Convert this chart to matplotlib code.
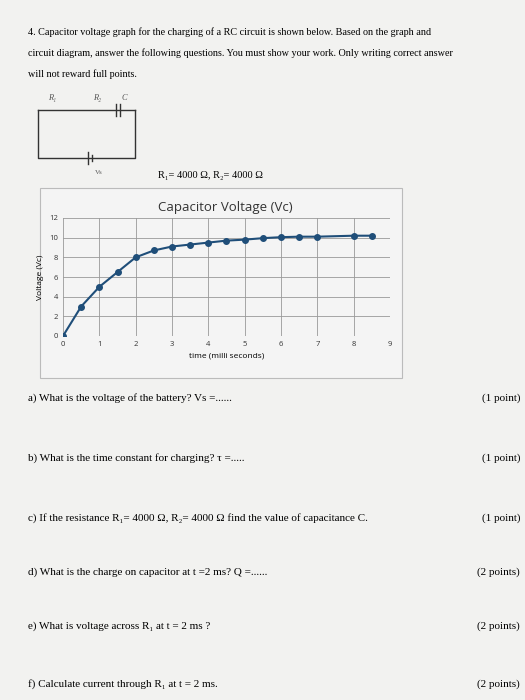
import matplotlib
matplotlib.use("Agg")
import matplotlib.pyplot as plt
from matplotlib.patches import Rectangle

time_ms = [0, 0.5, 1, 1.5, 2, 2.5, 3, 3.5, 4, 4.5, 5, 5.5, 6, 6.5, 7, 8, 8.5]
voltage = [0, 3, 5, 6.5, 8, 8.7, 9.1, 9.3, 9.5, 9.7, 9.8, 9.95, 10.05, 10.1, 10.1, 10.2, 10.2]
xticks = list(range(0, 10))
yticks = list(range(0, 13, 2))

W, H = 525, 700
fig = plt.figure(figsize=(5.25, 7), dpi=100, facecolor="#f2f2f0")
plt.rcParams['font.family'] = ['Liberation Serif', 'DejaVu Serif']

def T(x, y, s, **kw):
    fig.text(x / W, 1 - y / H, s, va="center", **kw)

T(28, 32, "4. Capacitor voltage graph for the charging of a RC circuit is shown below. Based on the graph and", fontsize=7.3)
T(28, 53, "circuit diagram, answer the following questions. You must show your work. Only writing correct answer", fontsize=7.3)
T(28, 74, "will not reward full points.", fontsize=7.3)

# circuit sketch
bg = fig.add_axes([0, 0, 1, 1], facecolor="none")
bg.set_xlim(0, W); bg.set_ylim(H, 0); bg.axis("off")
bg.plot([38, 38, 135, 135], [110, 158, 158, 110], color="#333", lw=1)
bg.plot([38, 135], [110, 110], color="#333", lw=1)
bg.plot([88, 88], [152, 164], color="#333", lw=1)
bg.plot([92, 92], [155, 161], color="#333", lw=1)
bg.plot([116, 116], [104, 116], color="#333", lw=1)
bg.plot([120, 120], [104, 116], color="#333", lw=1)
T(48, 98, "R₁", fontsize=6, style="italic", color="#555")
T(93, 98, "R₂", fontsize=6, style="italic", color="#555")
T(122, 98, "C", fontsize=6, style="italic", color="#555")
T(95, 172, "Vs", fontsize=5, color="#555")
T(158, 175, "R₁= 4000 Ω, R₂= 4000 Ω", fontsize=7.5)

# chart panel
bg.add_patch(Rectangle((40, 188), 362, 190, facecolor="#f4f4f4", edgecolor="#bbb", lw=0.8))
T(225, 208, "Capacitor Voltage (Vc)", fontsize=9.5, ha="center", family=["Open Sans", "DejaVu Sans"], color="#333")

ax = fig.add_axes([63 / W, 1 - 336 / H, (390 - 63) / W, (336 - 218) / H])
ax.set_facecolor("#f4f4f4")
ax.plot(time_ms, voltage, color="#1f4e79", lw=1.5, marker="o", ms=4)
ax.set_xlim(0, 9); ax.set_ylim(0, 12)
ax.set_xticks(xticks); ax.set_yticks(yticks)
ax.grid(color="#999", lw=0.6)
for s in ax.spines.values():
    s.set_visible(False)
ax.tick_params(length=0, labelsize=5.5, colors="#333")
for lab in ax.get_xticklabels() + ax.get_yticklabels():
    lab.set_family(["Open Sans", "DejaVu Sans"])
ax.set_xlabel("time (milli seconds)", fontsize=6, family=["Open Sans", "DejaVu Sans"], labelpad=3)
ax.set_ylabel("Voltage (Vc)", fontsize=6, family=["Open Sans", "DejaVu Sans"], labelpad=4)

qs = [
    (398, "a) What is the voltage of the battery? Vs =......", "(1 point)"),
    (458, "b) What is the time constant for charging? τ =.....", "(1 point)"),
    (518, "c) If the resistance R₁= 4000 Ω, R₂= 4000 Ω find the value of capacitance C.", "(1 point)"),
    (572, "d) What is the charge on capacitor at t =2 ms? Q =......", "(2 points)"),
    (626, "e) What is voltage across R₁ at t = 2 ms ?", "(2 points)"),
    (684, "f) Calculate current through R₁ at t = 2 ms.", "(2 points)"),
]
for y, q, p in qs:
    T(28, y, q, fontsize=8)
    T(520, y, p, fontsize=8, ha="right")

fig.savefig("out.png", dpi=100, facecolor=fig.get_facecolor())
